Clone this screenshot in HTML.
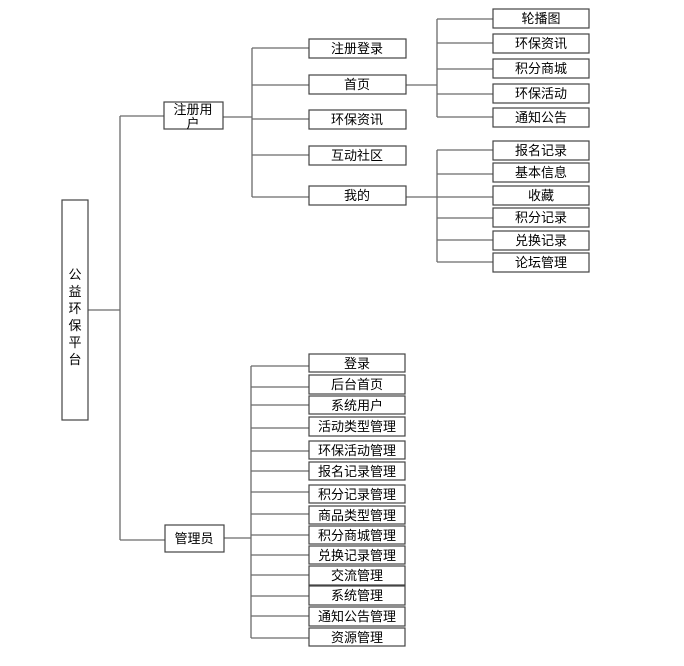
<!DOCTYPE html>
<html><head><meta charset="utf-8"><style>
html,body{margin:0;padding:0;background:#fff;}
svg text{font-family:"Liberation Sans","Noto Sans CJK SC",sans-serif;font-size:13px;fill:#000;}
</style></head><body>
<svg width="684" height="661" xmlns="http://www.w3.org/2000/svg">
<g stroke="#6a6a6a" stroke-width="1.3" fill="none">
<!-- root connectors -->
<path d="M88 310H120M120 116V540M120 116H164M120 540H165"/>
<!-- user -->
<path d="M223 117H252M252 48V197M252 48H309M252 85H309M252 119H309M252 155H309M252 197H309"/>
<path d="M406 85H437M437 19V117M437 19H493M437 43H493M437 69H493M437 94H493M437 117H493"/>
<path d="M406 197H437M437 150V262M437 150H493M437 174H493M437 197H493M437 218H493M437 240H493M437 262H493"/>
<!-- admin -->
<path d="M224 538H251M251 366V638M251 366H309M251 387H309M251 405H309M251 428H309M251 451H309M251 471H309M251 492H309M251 514H309M251 535H309M251 555H309M251 575H309M251 596H309M251 616H309M251 638H309"/>
</g>
<g stroke="#444" stroke-width="1.2" fill="#fff">
<rect x="62" y="200" width="26" height="220"/>
<rect x="164" y="102" width="59" height="27"/>
<rect x="165" y="525" width="59" height="27"/>
<rect x="309" y="39" width="97" height="19"/>
<rect x="309" y="75" width="97" height="19"/>
<rect x="309" y="110" width="97" height="19"/>
<rect x="309" y="146" width="97" height="19"/>
<rect x="309" y="186" width="97" height="19"/>
<rect x="493" y="9" width="96" height="19"/>
<rect x="493" y="34" width="96" height="19"/>
<rect x="493" y="59" width="96" height="19"/>
<rect x="493" y="84" width="96" height="19"/>
<rect x="493" y="108" width="96" height="19"/>
<rect x="493" y="141" width="96" height="19"/>
<rect x="493" y="163" width="96" height="19"/>
<rect x="493" y="186" width="96" height="19"/>
<rect x="493" y="208" width="96" height="19"/>
<rect x="493" y="231" width="96" height="19"/>
<rect x="493" y="253" width="96" height="19"/>
<rect x="309" y="354" width="96" height="18"/>
<rect x="309" y="375" width="96" height="19"/>
<rect x="309" y="396" width="96" height="18"/>
<rect x="309" y="417" width="96" height="19"/>
<rect x="309" y="441" width="96" height="18"/>
<rect x="309" y="462" width="96" height="18"/>
<rect x="309" y="485" width="96" height="18"/>
<rect x="309" y="506" width="96" height="18"/>
<rect x="309" y="526" width="96" height="18"/>
<rect x="309" y="546" width="96" height="18"/>
<rect x="309" y="566" width="96" height="19"/>
<rect x="309" y="586" width="96" height="19"/>
<rect x="309" y="607" width="96" height="19"/>
<rect x="309" y="628" width="96" height="18"/>
</g>
<g text-anchor="middle">
<text x="75" y="279">公</text><text x="75" y="296">益</text><text x="75" y="313">环</text><text x="75" y="330">保</text><text x="75" y="347">平</text><text x="75" y="364">台</text>
<text x="193" y="114">注册用</text><text x="193" y="128">户</text>
<text x="194" y="543">管理员</text>
<text x="357" y="53">注册登录</text>
<text x="357" y="89">首页</text>
<text x="357" y="124">环保资讯</text>
<text x="357" y="160">互动社区</text>
<text x="357" y="200">我的</text>
<text x="541" y="23">轮播图</text>
<text x="541" y="48">环保资讯</text>
<text x="541" y="73">积分商城</text>
<text x="541" y="98">环保活动</text>
<text x="541" y="122">通知公告</text>
<text x="541" y="155">报名记录</text>
<text x="541" y="177">基本信息</text>
<text x="541" y="200">收藏</text>
<text x="541" y="222">积分记录</text>
<text x="541" y="245">兑换记录</text>
<text x="541" y="267">论坛管理</text>
<text x="357" y="368">登录</text>
<text x="357" y="389">后台首页</text>
<text x="357" y="410">系统用户</text>
<text x="357" y="431">活动类型管理</text>
<text x="357" y="455">环保活动管理</text>
<text x="357" y="476">报名记录管理</text>
<text x="357" y="499">积分记录管理</text>
<text x="357" y="520">商品类型管理</text>
<text x="357" y="540">积分商城管理</text>
<text x="357" y="560">兑换记录管理</text>
<text x="357" y="580">交流管理</text>
<text x="357" y="600">系统管理</text>
<text x="357" y="621">通知公告管理</text>
<text x="357" y="642">资源管理</text>
</g>
</svg>
</body></html>
